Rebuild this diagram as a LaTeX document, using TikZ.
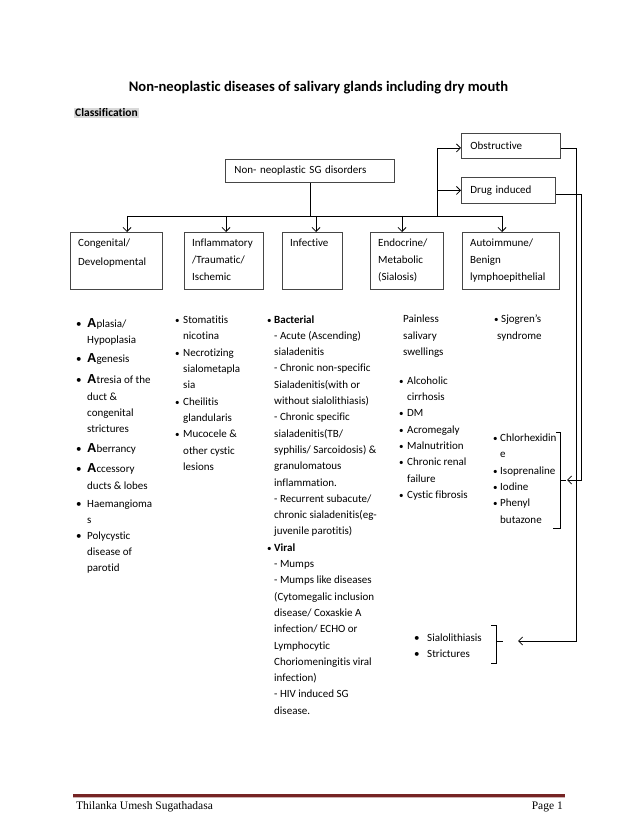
\documentclass[tikz,border=0pt]{standalone}
\usepackage{fontspec}
\setmainfont{Carlito}[Ligatures=NoCommon]
\newfontfamily\arialfont{Liberation Sans}
\newfontfamily\footfont{Liberation Serif}
\usetikzlibrary{arrows.meta, calc}

\definecolor{boxgray}{RGB}{70,70,70}
\definecolor{rulered}{RGB}{118,36,36}
\newcommand{\bigA}{{\arialfont\bfseries\fontsize{13}{13}\selectfont A}}

\begin{document}
\begin{tikzpicture}[x=1pt, y=-1pt,
    box/.style={draw=boxgray, line width=0.9pt, anchor=north west, inner sep=0, minimum height=57pt},
    sbox/.style={draw=boxgray, line width=0.9pt, anchor=north west, inner xsep=9pt, inner ysep=0, align=left, font=\fontsize{11}{13}\selectfont},
    btxt/.style={anchor=north west, inner sep=0, align=left, font=\fontsize{11}{17}\selectfont},
    txt/.style={anchor=base west, inner sep=0, font=\fontsize{11}{13}\selectfont},
    dot/.style={anchor=base west, inner sep=0, font=\fontsize{9}{13}\selectfont},
    arr/.style={-{Straight Barb[length=4pt, width=8pt]}, line width=0.8pt},
    ln/.style={line width=0.8pt}
  ]
  \useasboundingbox (0,0) rectangle (638,826);

  % heading
  \node[anchor=base, inner sep=0, font=\fontsize{14.6}{16}\selectfont\bfseries] (title) at (318.5,92)
    {Non-neoplastic diseases of salivary glands including dry mouth};
  \node[txt, font=\fontsize{11.5}{13}\selectfont\bfseries, fill=gray!30, inner sep=1pt] (cls) at (74,117) {Classification};

  % top boxes
  \node[sbox, text width=151pt, minimum height=23pt] (nsg) at (225,159) {Non- neoplastic SG disorders};
  \node[sbox, text width=81pt, minimum height=25pt] (obs) at (461,133) {Obstructive};
  \node[sbox, text width=76pt, minimum height=26pt] (drug) at (461,177) {Drug induced};

  \coordinate (busL) at (127,216);
  \coordinate (busR) at (502,216);
  \coordinate (brk) at (437,216);
  \draw[ln] (busL) -- (busR);
  \draw[ln] (nsg.south) -- (nsg.south |- busL);
  \draw[arr] (brk) |- ($(obs.west)+(0,2)$);
  \draw[arr] (brk |- drug.west) -- (drug.west);

  % second row
  \foreach \n/\x/\w/\a/\lbl in {cong/70/92/127/{Congenital/\\[2pt]Developmental},
      infl/184/79/226/{Inflammatory\\/Traumatic/\\Ischemic},
      infc/282/60/316/{Infective},
      endo/370/73/402/{Endocrine/\\Metabolic\\(Sialosis)},
      auto/462/97/502/{Autoimmune/\\Benign\\lymphoepithelial}} {
    \node[box, minimum width=\w] (\n) at (\x,232) {};
    \node[btxt] (\n-t) at ($(\n.north west)+(8,7)$) {\lbl};
    \coordinate (\n-in) at (\a,216);
    \draw[arr] (\n-in) -- (\n-in |- \n.north);
  }

  % congenital list
  \foreach \y/\lbl [count=\i] in {327/{\bigA plasia/}, 343/Hypoplasia, 362/{\bigA genesis},
      383/{\bigA tresia of the}, 400/{duct \&}, 416/congenital, 432/strictures,
      452/{\bigA berrancy}, 472/{\bigA ccessory}, 489/{ducts \& lobes}, 507/Haemangioma,
      523/s, 539/Polycystic, 555/{disease of}, 571/parotid}
    \node[txt] (dev\i) at (87,\y) {\lbl};
  \foreach \y [count=\i] in {327,362,383,452,472,507,539}
    \node[txt] (devb\i) at (76,\y) {\textbullet};

  % inflammatory list
  \foreach \y/\lbl [count=\i] in {323/Stomatitis, 339/nicotina, 356/Necrotizing, 372/sialometapla,
      388/sia, 405/Cheilitis, 421/glandularis, 437/{Mucocele \&}, 454/{other cystic}, 470/lesions}
    \node[txt] (inf\i) at (183,\y) {\lbl};
  \foreach \y [count=\i] in {323,356,405,437}
    \node[dot] (infb\i) at (175,\y) {\textbullet};

  % infective list
  \foreach \lbl [count=\i] in {{\textbf{Bacterial}}, {- Acute (Ascending)}, {sialadenitis},
      {- Chronic non-specific}, {Sialadenitis(with or}, {without sialolithiasis)},
      {- Chronic specific}, {sialadenitis(TB/}, {syphilis/ Sarcoidosis) \&}, {granulomatous},
      {inflammation.}, {- Recurrent subacute/}, {chronic sialadenitis(eg-}, {juvenile parotitis)},
      {\textbf{Viral}}, {- Mumps}, {- Mumps like diseases}, {(Cytomegalic inclusion},
      {disease/ Coxaskie A}, {infection/ ECHO or}, {Lymphocytic}, {Choriomeningitis viral},
      {infection)}, {- HIV induced SG}, {disease.}}
    \node[txt] (bac\i) at (274,{323+16.3*(\i-1)}) {\lbl};
  \foreach \y [count=\i] in {323,551.2}
    \node[dot] (bacb\i) at (267,\y) {\textbullet};

  % endocrine list
  \foreach \y/\lbl [count=\i] in {322/Painless, 339/salivary, 355/swellings}
    \node[txt] (pls\i) at (403,\y) {\lbl};
  \foreach \y/\lbl [count=\i] in {384/Alcoholic, 400/cirrhosis, 416.5/DM, 433/Acromegaly,
      449/Malnutrition, 465.5/{Chronic renal}, 482/failure, 498/{Cystic fibrosis}}
    \node[txt] (met\i) at (407,\y) {\lbl};
  \foreach \y [count=\i] in {384,416.5,433,449,465.5,498}
    \node[dot] (metb\i) at (399,\y) {\textbullet};

  % autoimmune list
  \node[dot] (sjb) at (494,322) {\textbullet};
  \node[txt] (sj1) at (501,322) {Sjogren’s};
  \node[txt] (sj2) at (497,339) {syndrome};

  % drug list
  \foreach \y/\lbl [count=\i] in {441/Chlorhexidin, 457/e, 474/Isoprenaline, 490/Iodine,
      506/Phenyl, 523/butazone}
    \node[txt] (drg\i) at (500,\y) {\lbl};
  \foreach \y [count=\i] in {441,474,490,506}
    \node[dot] (drgb\i) at (493,\y) {\textbullet};

  % obstructive list
  \node[txt] (obsb1) at (414,641) {\textbullet};
  \node[txt] (obsb2) at (414,657) {\textbullet};
  \node[txt] (obs1) at (427,641) {Sialolithiasis};
  \node[txt] (obs2) at (427,657) {Strictures};

  % brackets and return lines
  \draw[ln] (556,432) -- (560,432) -- (560,528) -- (553,528);
  \draw[ln] (560,480) -- (566,480);
  \draw[ln] (491,625) -- (496,625) -- (496,663) -- (491,663);
  \draw[ln] (496,641) -- (503,641);
  \coordinate (obsturn) at (576,641);
  \coordinate (sialin) at (518,641);
  \coordinate (drugturn) at (581,480);
  \coordinate (drugin) at (567,480);
  \draw[arr] ($(obs.east)+(0,2)$) -| (obsturn) -- (sialin);
  \draw[arr] ($(drug.east)+(0,4)$) -| (drugturn) -- (drugin);

  % footer
  \draw[line width=3pt, rulered] (73,795) -- (565,795);
  \draw[line width=1pt, rulered!35] (73,797.5) -- (565,797.5);
  \node[txt, font=\footfont\fontsize{11.5}{13}\selectfont] (auth) at (76,809) {Thilanka Umesh Sugathadasa};
  \node[anchor=base east, inner sep=0, font=\footfont\fontsize{11.5}{13}\selectfont] (page) at (563,809) {Page 1};
\end{tikzpicture}
\end{document}
